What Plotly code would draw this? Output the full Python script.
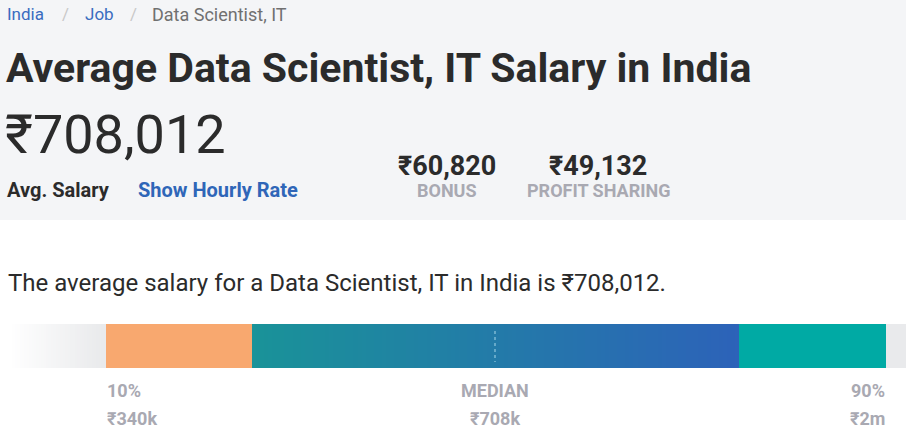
import plotly.graph_objects as go
import numpy as np

# --- data ---
breadcrumb = ["India", "Job", "Data Scientist, IT"]
title = "Average Data Scientist, IT Salary in India"
avg_salary = "₹708,012"
extras_values = ["₹60,820", "₹49,132"]
extras_labels = ["BONUS", "PROFIT SHARING"]
sentence = "The average salary for a Data Scientist, IT in India is ₹708,012."
pct_labels = ["10%", "MEDIAN", "90%"]
pct_values = ["₹340k", "₹708k", "₹2m"]
# bar segments on the pixel-scaled axis: start, end
seg_low = [106, 252]
seg_mid = [252, 739]
seg_high = [739, 886]
median_x = 495

W, H = 906, 437
FONT = "Roboto"
BAR_Y, BAR_H = 346, 44
fig = go.Figure()

def hexrgb(h):
    h = h.lstrip("#")
    return np.array([int(h[i:i+2], 16) for i in (0, 2, 4)], float)

def gradient_bar(x0, x1, c0, c1, n=100):
    edges = np.linspace(x0, x1, n + 1)
    a, b = hexrgb(c0), hexrgb(c1)
    cols = []
    for i in range(n):
        f = i / (n - 1)
        c = a + (b - a) * f
        cols.append("rgb(%d,%d,%d)" % tuple(c))
    fig.add_trace(go.Bar(y=[BAR_Y]*n, x=np.diff(edges) + 0.6, base=edges[:-1], orientation="h",
                         width=BAR_H, marker=dict(color=cols, line_width=0), hoverinfo="skip"))

gradient_bar(10, seg_low[0], "#ffffff", "#e9eaec", 40)
fig.add_trace(go.Bar(y=[BAR_Y], x=[20], base=[seg_high[1]], orientation="h", width=BAR_H,
                     marker=dict(color="#e9eaec", line_width=0), hoverinfo="skip"))
fig.add_trace(go.Bar(y=[BAR_Y], x=[seg_low[1]-seg_low[0]], base=[seg_low[0]], orientation="h", width=BAR_H,
                     marker=dict(color="#f8a86f", line_width=0), hoverinfo="skip"))
gradient_bar(seg_mid[0], seg_mid[1], "#1a9399", "#2d63b9", 120)
fig.add_trace(go.Bar(y=[BAR_Y], x=[seg_high[1]-seg_high[0]], base=[seg_high[0]], orientation="h", width=BAR_H,
                     marker=dict(color="#00aaa4", line_width=0), hoverinfo="skip"))
fig.add_trace(go.Scatter(x=[median_x, median_x], y=[331, 362], mode="lines",
                         line=dict(color="#a8d8ea", width=1, dash="dot"), hoverinfo="skip"))

shapes = [dict(type="rect", xref="x", yref="y", x0=0, x1=W, y0=0, y1=220,
               fillcolor="#f4f5f7", line_width=0, layer="below")]

ann = []
def t(x, y, s, size, color, bold=False, xa="left"):
    ann.append(dict(x=x, y=y, xref="x", yref="y", text=f"<b>{s}</b>" if bold else s,
                    showarrow=False, xanchor=xa, yanchor="middle",
                    font=dict(family=FONT, size=size, color=color)))

t(5, 14, breadcrumb[0], 17, "#3a6cc0")
t(60, 14, "/", 17, "#c8c8c8")
t(83, 14, breadcrumb[1], 17, "#3a6cc0")
t(128, 14, "/", 17, "#c8c8c8")
t(150, 14, breadcrumb[2], 18, "#707070")
t(4, 68, title, 41, "#2b2b2b", bold=True)
t(3, 134, avg_salary, 54, "#2b2b2b")
t(5, 190, "Avg. Salary", 20, "#2b2b2b", bold=True)
t(136, 190, "Show Hourly Rate", 20, "#2f66b8", bold=True)
for cx, v, l in zip([447, 598], extras_values, extras_labels):
    t(cx, 166, v, 27, "#2b2b2b", bold=True, xa="center")
    t(cx, 190, l, 18, "#a9a9b2", bold=True, xa="center")
t(6, 283, sentence, 24, "#2b2b2b")
for x, xa, p, v in zip([105, median_x, 887], ["left", "center", "right"], pct_labels, pct_values):
    t(x, 390, p, 18, "#a9a9b2", bold=True, xa=xa)
    t(x, 418, v, 18, "#a9a9b2", bold=True, xa=xa)

fig.update_layout(width=W, height=H, margin=dict(l=0, r=0, t=0, b=0),
                  paper_bgcolor="white", plot_bgcolor="white", showlegend=False,
                  barmode="overlay", bargap=0, shapes=shapes, annotations=ann,
                  xaxis=dict(range=[0, W], visible=False, fixedrange=True),
                  yaxis=dict(range=[H, 0], visible=False, fixedrange=True))
fig.write_html("out.html", config={"displayModeBar": False},
               post_script="document.body.style.margin='0';document.body.style.overflow='hidden';")
